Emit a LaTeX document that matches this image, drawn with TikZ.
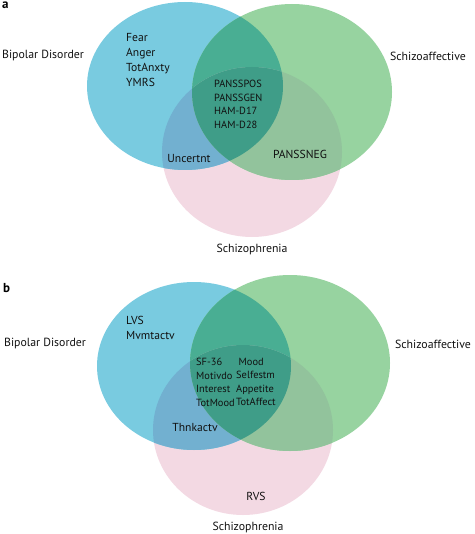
\documentclass[tikz,border=0pt]{standalone}
\usepackage{fontspec}
\setmainfont{PT Sans}
\definecolor{cblue}{HTML}{79CBE0}
\definecolor{cgreen}{HTML}{97D3A0}
\definecolor{cpink}{HTML}{F3D9E3}
\definecolor{cbg}{HTML}{49AE93}
\definecolor{cbp}{HTML}{72B0D0}
\definecolor{cgp}{HTML}{92C39C}
\definecolor{call}{HTML}{3F9D88}
\definecolor{ctxt}{HTML}{111111}
\begin{document}
\begin{tikzpicture}[x=1pt,y=-1pt,
  setlabel/.style={font=\fontsize{11.8}{13}\selectfont, text=ctxt, inner sep=0pt},
  item/.style={font=\fontsize{11.6}{15}\selectfont, text=ctxt, inner sep=0pt, align=left},
  inner/.style={font=\fontsize{10.4}{13.5}\selectfont, text=ctxt, inner sep=0pt, align=left},
  panel/.style={font=\bfseries\fontsize{13}{14}\selectfont, inner sep=0pt}]
\useasboundingbox (0,0) rectangle (474,534);
% ---------- panel a ----------
\def\Ba{(185,86) ellipse [x radius=98, y radius=84]}
\def\Ga{(292,92) ellipse [x radius=100, y radius=88]}
\def\Pa{(252,152) ellipse [x radius=90, y radius=85]}
\fill[cpink] \Pa;
\fill[cblue] \Ba;
\fill[cgreen] \Ga;
\begin{scope}\clip \Ba; \fill[cbg] \Ga; \end{scope}
\begin{scope}\clip \Ba; \fill[cbp] \Pa; \end{scope}
\begin{scope}\clip \Ga; \fill[cgp] \Pa; \end{scope}
\begin{scope}\clip \Ba; \clip \Ga; \fill[call] \Pa; \end{scope}
\node[panel, anchor=north west] (la) at (2,2) {a};
\node[setlabel] (bda) at (43,56) {Bipolar Disorder};
\node[setlabel] (saa) at (428,56) {Schizoaffective};
\node[setlabel] (sza) at (252,249) {Schizophrenia};
\node[item, anchor=north west] (ba) at (126,33) {Fear\\Anger\\TotAnxty\\YMRS};
\node[inner, anchor=north west] (ca) at (214,80) {PANSSPOS\\PANSSGEN\\HAM-D17\\HAM-D28};
\node[item] (ua) at (189,159) {Uncertnt};
\node[item] (pa) at (300,154) {PANSSNEG};
% ---------- panel b ----------
\def\Bb{(194,366) ellipse [x radius=97, y radius=84]}
\def\Gb{(290,363) ellipse [x radius=100, y radius=88]}
\def\Pb{(243,430) ellipse [x radius=90, y radius=85]}
\fill[cpink] \Pb;
\fill[cblue] \Bb;
\fill[cgreen] \Gb;
\begin{scope}\clip \Bb; \fill[cbg] \Gb; \end{scope}
\begin{scope}\clip \Bb; \fill[cbp] \Pb; \end{scope}
\begin{scope}\clip \Gb; \fill[cgp] \Pb; \end{scope}
\begin{scope}\clip \Bb; \clip \Gb; \fill[call] \Pb; \end{scope}
\node[panel, anchor=north west] (lb) at (3,283) {b};
\node[setlabel] (bdb) at (45,344) {Bipolar Disorder};
\node[setlabel] (sab) at (433,344) {Schizoaffective};
\node[setlabel] (szb) at (248,527) {Schizophrenia};
\node[item, anchor=north west] (bb) at (126,316) {LVS\\Mvmtactv};
\node[inner, anchor=north west] (cb1) at (196,358) {SF-36\\Motivdo\\Interest\\TotMood};
\node[inner, anchor=north west] (cb2) at (236,358) {\hspace{2.5pt}Mood\\Selfestm\\Appetite\\TotAffect};
\node[item] (tb) at (195,428) {Thnkactv};
\node[item] (rb) at (256,496) {RVS};
\end{tikzpicture}
\end{document}
